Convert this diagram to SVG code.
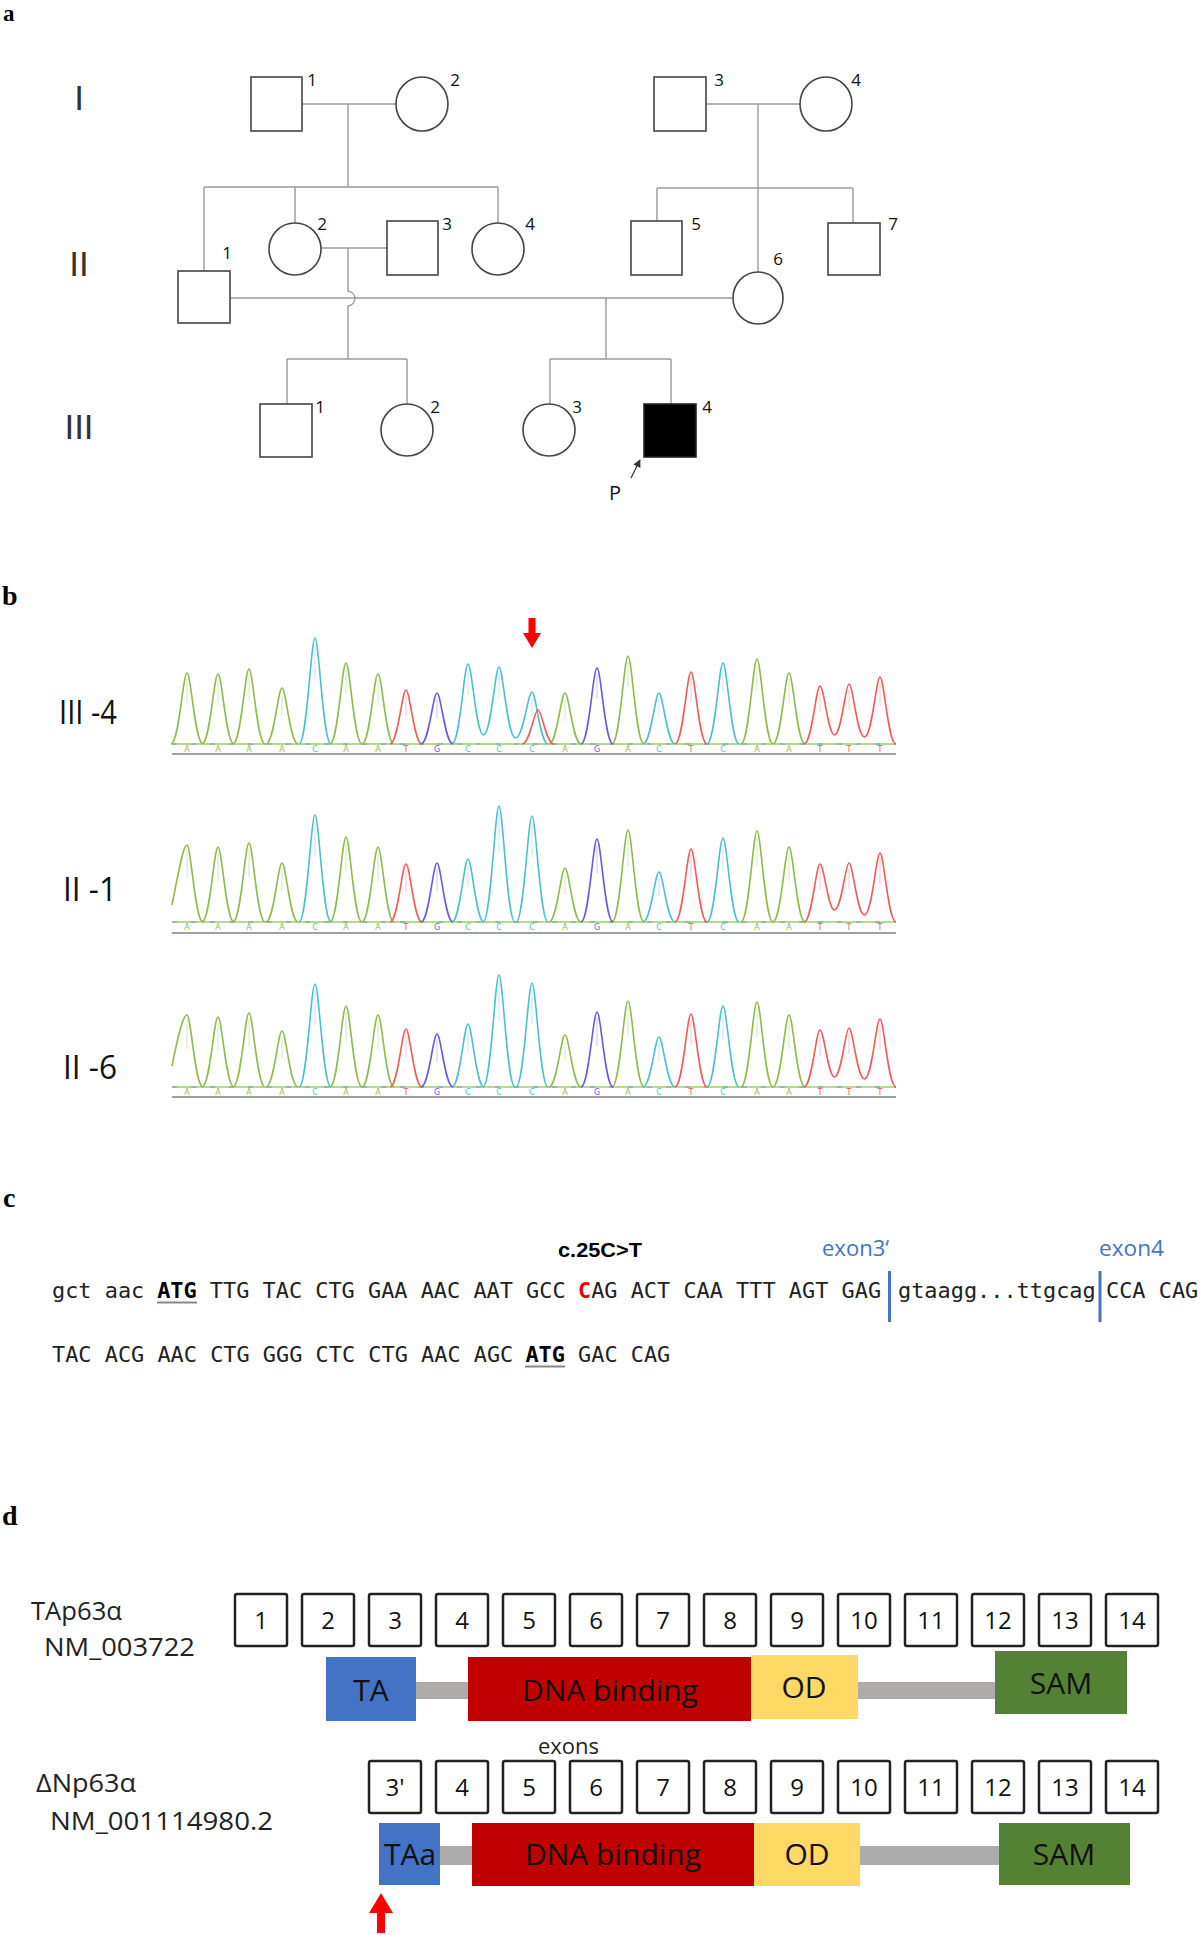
<svg xmlns="http://www.w3.org/2000/svg" width="1200" height="1935" viewBox="0 0 1200 1935">
<style>
.bg{fill:#fff}
.ped{fill:#fff;stroke:#444;stroke-width:1.6}
.aff{fill:#000;stroke:#222;stroke-width:1.6}
.ln{fill:none;stroke:#9a9a9a;stroke-width:1.4}
.num{font-family:"Open Sans","Liberation Sans",sans-serif;font-size:17px;fill:#111;text-anchor:middle}
.gen{font-family:"Liberation Sans",sans-serif;font-size:35px;fill:#333;text-anchor:middle}
.panel{font-family:"Liberation Serif",serif;font-weight:bold;font-size:28px;fill:#000}
.lab{font-family:"Open Sans","Liberation Sans",sans-serif;font-size:32px;fill:#111}
.pk{fill:none;stroke-width:1.6}
.cl{fill:none;stroke-width:1;opacity:0.35}
.g{stroke:#8cbb4c}.c{stroke:#4cbfcb}.r{stroke:#f05a5a}.p{stroke:#6a58e0}
.fA{fill:#8cbb4c}.fC{fill:#4cbfcb}.fT{fill:#f05a5a}.fG{fill:#6a58e0}
.bl{font-family:"DejaVu Sans",sans-serif;font-size:8px;text-anchor:middle}
.seq{font-family:"DejaVu Sans Mono",monospace;font-size:21.9px;fill:#222}
.bold{font-weight:bold;fill:#000}
.exl{font-family:"Open Sans","Liberation Sans",sans-serif;font-size:22px;fill:#4472C4}
.ex{fill:#fff;stroke:#222;stroke-width:2.5}
.exn{font-family:"Open Sans","Liberation Sans",sans-serif;font-size:24px;fill:#111;text-anchor:middle}
.dom{font-family:"Open Sans","Liberation Sans",sans-serif;font-size:30px;fill:#111;text-anchor:middle}
.iso{font-family:"Open Sans","Liberation Sans",sans-serif;font-size:26px;fill:#222}
.link{fill:#AEABAB}
.blue{stroke:#4472C4;stroke-width:3}
.ul{stroke:#888;stroke-width:2}
</style>
<defs>
<marker id="ah" viewBox="0 0 10 10" refX="9" refY="5" markerWidth="6" markerHeight="6" orient="auto"><path d="M0,0 L10,5 L0,10 z" fill="#333"/></marker>
</defs>
<rect class="bg" x="0" y="0" width="1200" height="1935"/>

<!-- Panel a -->
<text class="panel" x="3" y="21" style="font-size:23px">a</text>
<text class="gen" x="79" y="110">I</text>
<text class="gen" x="79" y="276">II</text>
<text class="gen" x="79" y="439">III</text>

<g id="connectors">
<path class="ln" d="M302,104 H396 M348,104 V187 M204,187 H498 M204,187 V271 M295,187 V223 M498,187 V223"/>
<path class="ln" d="M706,104 H800 M758,104 V272 M657,188 H853 M657,188 V221 M853,188 V223"/>
<path class="ln" d="M321,248 H387 M348,248 V291 C357,292 357,305 348,306 V359 M287,359 H407 M287,359 V404 M407,359 V404"/>
<path class="ln" d="M230,298 H732 M606,298 V359 M550,359 H671 M550,359 V404 M671,359 V404"/>
<path d="M631,478 L640,460" fill="none" stroke="#333" stroke-width="1.3" marker-end="url(#ah)"/>
</g>

<g id="I-1"><rect class="ped" x="251" y="77" width="51" height="54"/><text class="num" x="312" y="86">1</text></g>
<g id="I-2"><ellipse class="ped" cx="422" cy="104" rx="26" ry="27"/><text class="num" x="455" y="86">2</text></g>
<g id="I-3"><rect class="ped" x="654" y="77" width="52" height="54"/><text class="num" x="719" y="86">3</text></g>
<g id="I-4"><ellipse class="ped" cx="826" cy="104" rx="26" ry="27"/><text class="num" x="856" y="86">4</text></g>
<g id="II-1"><rect class="ped" x="178" y="271" width="52" height="52"/><text class="num" x="227" y="259">1</text></g>
<g id="II-2"><ellipse class="ped" cx="295" cy="249" rx="26" ry="26"/><text class="num" x="322" y="230">2</text></g>
<g id="II-3"><rect class="ped" x="387" y="221" width="51" height="54"/><text class="num" x="447" y="230">3</text></g>
<g id="II-4"><ellipse class="ped" cx="498" cy="249" rx="26" ry="26"/><text class="num" x="530" y="230">4</text></g>
<g id="II-5"><rect class="ped" x="631" y="221" width="51" height="54"/><text class="num" x="696" y="230">5</text></g>
<g id="II-6"><ellipse class="ped" cx="758" cy="298" rx="25" ry="26"/><text class="num" x="778" y="265">6</text></g>
<g id="II-7"><rect class="ped" x="828" y="223" width="52" height="52"/><text class="num" x="893" y="230">7</text></g>
<g id="III-1"><rect class="ped" x="260" y="404" width="52" height="53"/><text class="num" x="320" y="413">1</text></g>
<g id="III-2"><ellipse class="ped" cx="407" cy="430" rx="26" ry="26"/><text class="num" x="435" y="413">2</text></g>
<g id="III-3"><ellipse class="ped" cx="549" cy="430" rx="26" ry="26"/><text class="num" x="577" y="413">3</text></g>
<g id="III-4"><rect class="aff" x="644" y="404" width="52" height="53"/><text class="num" x="707" y="413">4</text></g>
<text class="num" x="615" y="500" style="font-size:20px">P</text>

<!-- Panel b -->
<text class="panel" x="2" y="605">b</text>
<text class="lab" x="59" y="724" textLength="58" lengthAdjust="spacingAndGlyphs">III -4</text>
<text class="lab" x="63" y="901" textLength="54" lengthAdjust="spacingAndGlyphs">II -1</text>
<text class="lab" x="63" y="1079" textLength="54" lengthAdjust="spacingAndGlyphs">II -6</text>

<g id="trace-III-4">
<line x1="172" y1="744" x2="896" y2="744" stroke="#9ccc6a" stroke-width="1.3"/>
<line x1="172" y1="744" x2="896" y2="744" stroke="#5a7be0" stroke-width="1.2" stroke-dasharray="5 14" opacity="0.7"/>
<line x1="172" y1="754" x2="896" y2="754" stroke="#a0a0a0" stroke-width="2"/>
<path class="pk g" d="M171,744c8,0 12,-71 16,-71c4,0 8,71 16,71M202,744c8,0 12,-70 16,-70c4,0 8,70 16,70M233,744c8,0 12,-75 16,-75c4,0 8,75 16,75M266,744c8,0 12,-56 16,-56c4,0 8,56 16,56M330,744c8,0 12,-81 16,-81c4,0 8,81 16,81M362,744c8,0 12,-70 16,-70c4,0 8,70 16,70M549,744c8,0 12,-51 16,-51c4,0 8,51 16,51M612,744c8,0 12,-88 16,-88c4,0 8,88 16,88M741,744c8,0 12,-85 16,-85c4,0 8,85 16,85M773,744c8,0 12,-71 16,-71c4,0 8,71 16,71"/>
<path class="pk c" d="M299,744c8,0 12,-106 16,-106c4,0 8,106 16,106M452,744c8,0 12,-80 16,-80c4,0 8,71 15.5,71c7.75,0 11.6,-68 15.5,-68c4,0 8.25,71 16.5,71c8,0 12.4,-46 16.5,-46c4,0 8,52 16,52M643,744c8,0 12,-51 16,-51c4,0 8,51 16,51M707,744c8,0 12,-81 16,-81c4,0 8,81 16,81"/>
<path class="pk r" d="M390,744c8,0 12,-54 16,-54c4,0 8,54 16,54M522,744c8,0 12,-34 16,-34c4,0 8,34 16,34M675,744c8,0 12,-72 16,-72c4,0 8,72 16,72M804,744c8,0 12,-58 16,-58c4,0 8,49 14.5,49c7,0 10.9,-51 14.5,-51c4,0 8,53 15.5,53c7.75,0 11.6,-60 15.5,-60c4,0 8,67 16,67"/>
<path class="pk p" d="M421,744c8,0 12,-51 16,-51c4,0 8,51 16,51M581,744c8,0 12,-76 16,-76c4,0 8,76 16,76"/>
<path class="cl g" d="M187,679v25M218,680v25M249,675v25M282,694v22M346,669v25M378,680v25M565,699v22M628,662v25M757,665v25M789,679v25"/>
<path class="cl c" d="M315,644v35M468,670v25M499,673v25M532,698v18M659,699v18M723,669v25"/>
<path class="cl r" d="M406,696v20M691,678v25M820,692v20M849,690v20M880,683v22"/>
<path class="cl p" d="M437,699v20M597,674v25"/>
<text class="bl" y="752"><tspan x="187" class="fA">A</tspan><tspan x="218" class="fA">A</tspan><tspan x="249" class="fA">A</tspan><tspan x="282" class="fA">A</tspan><tspan x="315" class="fC">C</tspan><tspan x="346" class="fA">A</tspan><tspan x="378" class="fA">A</tspan><tspan x="406" class="fT">T</tspan><tspan x="437" class="fG">G</tspan><tspan x="468" class="fC">C</tspan><tspan x="499" class="fC">C</tspan><tspan x="532" class="fC">C</tspan><tspan x="565" class="fA">A</tspan><tspan x="597" class="fG">G</tspan><tspan x="628" class="fA">A</tspan><tspan x="659" class="fC">C</tspan><tspan x="691" class="fT">T</tspan><tspan x="723" class="fC">C</tspan><tspan x="757" class="fA">A</tspan><tspan x="789" class="fA">A</tspan><tspan x="820" class="fT">T</tspan><tspan x="849" class="fT">T</tspan><tspan x="880" class="fT">T</tspan></text>
<polygon points="528.5,618 535.5,618 535.5,633 541,633 532,648 523,633 528.5,633" fill="#f00"/>
</g>

<g id="trace-II-1">
<line x1="172" y1="922" x2="896" y2="922" stroke="#9ccc6a" stroke-width="1.3"/>
<line x1="172" y1="922" x2="896" y2="922" stroke="#5a7be0" stroke-width="1.2" stroke-dasharray="5 14" opacity="0.7"/>
<line x1="172" y1="933" x2="896" y2="933" stroke="#a0a0a0" stroke-width="2"/>
<path class="pk g" d="M172,905c6,-30 11,-60 15,-60c4,0 8,77 16,77M202,922c8,0 12,-75 16,-75c4,0 8,75 16,75M233,922c8,0 12,-79 16,-79c4,0 8,79 16,79M266,922c8,0 12,-59 16,-59c4,0 8,59 16,59M330,922c8,0 12,-85 16,-85c4,0 8,85 16,85M362,922c8,0 12,-75 16,-75c4,0 8,75 16,75M549,922c8,0 12,-54 16,-54c4,0 8,54 16,54M612,922c8,0 12,-92 16,-92c4,0 8,92 16,92M741,922c8,0 12,-91 16,-91c4,0 8,91 16,91M773,922c8,0 12,-75 16,-75c4,0 8,75 16,75"/>
<path class="pk c" d="M299,922c8,0 12,-107 16,-107c4,0 8,107 16,107M452,922c8,0 12,-63 16,-63c4,0 8,63 16,63M483,922c8,0 12,-116 16,-116c4,0 8,116 16,116M516,922c8,0 12,-106 16,-106c4,0 8,106 16,106M643,922c8,0 12,-50 16,-50c4,0 8,50 16,50M707,922c8,0 12,-84 16,-84c4,0 8,84 16,84"/>
<path class="pk r" d="M390,922c8,0 12,-58 16,-58c4,0 8,58 16,58M675,922c8,0 12,-73 16,-73c4,0 8,73 16,73M804,922c8,0 12,-58 16,-58c4,0 8,46 14.5,46c7,0 10.9,-47 14.5,-47c4,0 8,52 15.5,52c7.75,0 11.6,-62 15.5,-62c4,0 8,69 16,69"/>
<path class="pk p" d="M421,922c8,0 12,-59 16,-59c4,0 8,59 16,59M581,922c8,0 12,-83 16,-83c4,0 8,83 16,83"/>
<path class="cl g" d="M187,851v28M218,853v28M249,849v28M282,869v22M346,843v28M378,853v28M565,874v20M628,836v30M757,837v30M789,853v28"/>
<path class="cl c" d="M315,821v35M468,865v22M499,812v40M532,822v35M659,878v18M723,844v28"/>
<path class="cl r" d="M406,870v22M691,855v25M820,870v20M849,869v20M880,859v25"/>
<path class="cl p" d="M437,869v22M597,845v28"/>
<text class="bl" y="930"><tspan x="187" class="fA">A</tspan><tspan x="218" class="fA">A</tspan><tspan x="249" class="fA">A</tspan><tspan x="282" class="fA">A</tspan><tspan x="315" class="fC">C</tspan><tspan x="346" class="fA">A</tspan><tspan x="378" class="fA">A</tspan><tspan x="406" class="fT">T</tspan><tspan x="437" class="fG">G</tspan><tspan x="468" class="fC">C</tspan><tspan x="499" class="fC">C</tspan><tspan x="532" class="fC">C</tspan><tspan x="565" class="fA">A</tspan><tspan x="597" class="fG">G</tspan><tspan x="628" class="fA">A</tspan><tspan x="659" class="fC">C</tspan><tspan x="691" class="fT">T</tspan><tspan x="723" class="fC">C</tspan><tspan x="757" class="fA">A</tspan><tspan x="789" class="fA">A</tspan><tspan x="820" class="fT">T</tspan><tspan x="849" class="fT">T</tspan><tspan x="880" class="fT">T</tspan></text>
</g>

<g id="trace-II-6">
<line x1="172" y1="1087" x2="896" y2="1087" stroke="#9ccc6a" stroke-width="1.3"/>
<line x1="172" y1="1087" x2="896" y2="1087" stroke="#5a7be0" stroke-width="1.2" stroke-dasharray="5 14" opacity="0.7"/>
<line x1="172" y1="1097" x2="896" y2="1097" stroke="#a0a0a0" stroke-width="2"/>
<path class="pk g" d="M172,1066c6,-30 11,-51 15,-51c4,0 8,72 16,72M202,1087c8,0 12,-70 16,-70c4,0 8,70 16,70M233,1087c8,0 12,-74 16,-74c4,0 8,74 16,74M266,1087c8,0 12,-56 16,-56c4,0 8,56 16,56M330,1087c8,0 12,-81 16,-81c4,0 8,81 16,81M362,1087c8,0 12,-72 16,-72c4,0 8,72 16,72M549,1087c8,0 12,-52 16,-52c4,0 8,52 16,52M612,1087c8,0 12,-86 16,-86c4,0 8,86 16,86M741,1087c8,0 12,-85 16,-85c4,0 8,85 16,85M773,1087c8,0 12,-72 16,-72c4,0 8,72 16,72"/>
<path class="pk c" d="M299,1087c8,0 12,-103 16,-103c4,0 8,103 16,103M452,1087c8,0 12,-63 16,-63c4,0 8,63 16,63M483,1087c8,0 12,-112 16,-112c4,0 8,112 16,112M516,1087c8,0 12,-104 16,-104c4,0 8,104 16,104M643,1087c8,0 12,-50 16,-50c4,0 8,50 16,50M707,1087c8,0 12,-81 16,-81c4,0 8,81 16,81"/>
<path class="pk r" d="M390,1087c8,0 12,-58 16,-58c4,0 8,58 16,58M675,1087c8,0 12,-73 16,-73c4,0 8,73 16,73M804,1087c8,0 12,-57 16,-57c4,0 8,47 14.5,47c7,0 10.9,-49 14.5,-49c4,0 8,51 15.5,51c7.75,0 11.6,-60 15.5,-60c4,0 8,68 16,68"/>
<path class="pk p" d="M421,1087c8,0 12,-53 16,-53c4,0 8,53 16,53M581,1087c8,0 12,-75 16,-75c4,0 8,75 16,75"/>
<path class="cl g" d="M187,1021v28M218,1023v28M249,1019v28M282,1037v22M346,1012v28M378,1021v28M565,1041v20M628,1007v30M757,1008v30M789,1021v28"/>
<path class="cl c" d="M315,990v35M468,1030v22M499,981v40M532,989v35M659,1043v18M723,1012v28"/>
<path class="cl r" d="M406,1035v22M691,1020v25M820,1036v20M849,1034v20M880,1025v25"/>
<path class="cl p" d="M437,1040v22M597,1018v28"/>
<text class="bl" y="1095"><tspan x="187" class="fA">A</tspan><tspan x="218" class="fA">A</tspan><tspan x="249" class="fA">A</tspan><tspan x="282" class="fA">A</tspan><tspan x="315" class="fC">C</tspan><tspan x="346" class="fA">A</tspan><tspan x="378" class="fA">A</tspan><tspan x="406" class="fT">T</tspan><tspan x="437" class="fG">G</tspan><tspan x="468" class="fC">C</tspan><tspan x="499" class="fC">C</tspan><tspan x="532" class="fC">C</tspan><tspan x="565" class="fA">A</tspan><tspan x="597" class="fG">G</tspan><tspan x="628" class="fA">A</tspan><tspan x="659" class="fC">C</tspan><tspan x="691" class="fT">T</tspan><tspan x="723" class="fC">C</tspan><tspan x="757" class="fA">A</tspan><tspan x="789" class="fA">A</tspan><tspan x="820" class="fT">T</tspan><tspan x="849" class="fT">T</tspan><tspan x="880" class="fT">T</tspan></text>
</g>

<!-- Panel c -->
<text class="panel" x="3" y="1207">c</text>
<text x="558" y="1257" font-family="Liberation Sans, sans-serif" font-weight="bold" font-size="20" fill="#000" textLength="84" lengthAdjust="spacingAndGlyphs">c.25C&gt;T</text>
<text class="exl" x="822" y="1256" textLength="67" lengthAdjust="spacingAndGlyphs">exon3‘</text>
<text class="exl" x="1099" y="1256" textLength="65" lengthAdjust="spacingAndGlyphs">exon4</text>
<g id="seq-line1">
<text class="seq" y="1298"><tspan x="52">gct aac </tspan><tspan class="bold" x="157.2">ATG</tspan><tspan x="196.65"> TTG TAC CTG GAA AAC AAT GCC </tspan><tspan x="578" fill="#e00000" font-weight="bold">C</tspan><tspan x="591.15">AG ACT CAA TTT AGT GAG</tspan><tspan x="898">gtaagg...ttgcag</tspan><tspan x="1106">CCA CAG</tspan></text>
<line class="ul" x1="157" y1="1302.5" x2="197" y2="1302.5"/>
<line class="blue" x1="889.5" y1="1271" x2="889.5" y2="1322"/>
<line class="blue" x1="1100" y1="1271" x2="1100" y2="1322"/>
</g>
<g id="seq-line2">
<text class="seq" y="1362"><tspan x="52">TAC ACG AAC CTG GGG CTC CTG AAC AGC </tspan><tspan class="bold" x="525.4">ATG</tspan><tspan x="564.85"> GAC CAG</tspan></text>
<line class="ul" x1="525" y1="1366.5" x2="565" y2="1366.5"/>
</g>

<!-- Panel d -->
<text class="panel" x="2" y="1525">d</text>
<text class="iso" x="31" y="1620" textLength="91" lengthAdjust="spacingAndGlyphs">TAp63α</text>
<text class="iso" x="44" y="1656" textLength="151" lengthAdjust="spacingAndGlyphs">NM_003722</text>
<text class="iso" x="36" y="1792" textLength="100" lengthAdjust="spacingAndGlyphs">ΔNp63α</text>
<text class="iso" x="50" y="1830" textLength="223" lengthAdjust="spacingAndGlyphs">NM_001114980.2</text>
<text class="iso" x="538" y="1754" style="font-size:22px">exons</text>

<g id="exons-TAp63">
<rect class="ex" x="235" y="1594" width="52" height="52" rx="2"/><text class="exn" x="261" y="1629">1</text>
<rect class="ex" x="302" y="1594" width="52" height="52" rx="2"/><text class="exn" x="328" y="1629">2</text>
<rect class="ex" x="369" y="1594" width="52" height="52" rx="2"/><text class="exn" x="395" y="1629">3</text>
<rect class="ex" x="436" y="1594" width="52" height="52" rx="2"/><text class="exn" x="462" y="1629">4</text>
<rect class="ex" x="503" y="1594" width="52" height="52" rx="2"/><text class="exn" x="529" y="1629">5</text>
<rect class="ex" x="570" y="1594" width="52" height="52" rx="2"/><text class="exn" x="596" y="1629">6</text>
<rect class="ex" x="637" y="1594" width="52" height="52" rx="2"/><text class="exn" x="663" y="1629">7</text>
<rect class="ex" x="704" y="1594" width="52" height="52" rx="2"/><text class="exn" x="730" y="1629">8</text>
<rect class="ex" x="771" y="1594" width="52" height="52" rx="2"/><text class="exn" x="797" y="1629">9</text>
<rect class="ex" x="838" y="1594" width="52" height="52" rx="2"/><text class="exn" x="864" y="1629">10</text>
<rect class="ex" x="905" y="1594" width="52" height="52" rx="2"/><text class="exn" x="931" y="1629">11</text>
<rect class="ex" x="972" y="1594" width="52" height="52" rx="2"/><text class="exn" x="998" y="1629">12</text>
<rect class="ex" x="1039" y="1594" width="52" height="52" rx="2"/><text class="exn" x="1065" y="1629">13</text>
<rect class="ex" x="1106" y="1594" width="52" height="52" rx="2"/><text class="exn" x="1132" y="1629">14</text>
</g>
<g id="domains-TAp63">
<rect class="link" x="416" y="1682" width="52" height="17"/>
<rect class="link" x="858" y="1682" width="137" height="17"/>
<rect x="326" y="1657" width="90" height="64" fill="#4472C4"/><text class="dom" x="371" y="1701">TA</text>
<rect x="468" y="1657" width="283" height="64" fill="#C00000"/><text class="dom" x="610" y="1701">DNA binding</text>
<rect x="751" y="1655" width="107" height="64" fill="#FFD966"/><text class="dom" x="804" y="1698">OD</text>
<rect x="995" y="1651" width="132" height="63" fill="#548235"/><text class="dom" x="1061" y="1694">SAM</text>
</g>

<g id="exons-dNp63">
<rect class="ex" x="369" y="1761" width="52" height="52" rx="2"/><text class="exn" x="395" y="1796">3'</text>
<rect class="ex" x="436" y="1761" width="52" height="52" rx="2"/><text class="exn" x="462" y="1796">4</text>
<rect class="ex" x="503" y="1761" width="52" height="52" rx="2"/><text class="exn" x="529" y="1796">5</text>
<rect class="ex" x="570" y="1761" width="52" height="52" rx="2"/><text class="exn" x="596" y="1796">6</text>
<rect class="ex" x="637" y="1761" width="52" height="52" rx="2"/><text class="exn" x="663" y="1796">7</text>
<rect class="ex" x="704" y="1761" width="52" height="52" rx="2"/><text class="exn" x="730" y="1796">8</text>
<rect class="ex" x="771" y="1761" width="52" height="52" rx="2"/><text class="exn" x="797" y="1796">9</text>
<rect class="ex" x="838" y="1761" width="52" height="52" rx="2"/><text class="exn" x="864" y="1796">10</text>
<rect class="ex" x="905" y="1761" width="52" height="52" rx="2"/><text class="exn" x="931" y="1796">11</text>
<rect class="ex" x="972" y="1761" width="52" height="52" rx="2"/><text class="exn" x="998" y="1796">12</text>
<rect class="ex" x="1039" y="1761" width="52" height="52" rx="2"/><text class="exn" x="1065" y="1796">13</text>
<rect class="ex" x="1106" y="1761" width="52" height="52" rx="2"/><text class="exn" x="1132" y="1796">14</text>
</g>
<g id="domains-dNp63">
<rect class="link" x="440" y="1846" width="32" height="19"/>
<rect class="link" x="860" y="1846" width="139" height="19"/>
<rect x="379" y="1823" width="61" height="62" fill="#4472C4"/><text class="dom" x="410" y="1865">TAa</text>
<rect x="472" y="1823" width="282" height="63" fill="#C00000"/><text class="dom" x="613" y="1865">DNA binding</text>
<rect x="754" y="1823" width="106" height="63" fill="#FFD966"/><text class="dom" x="807" y="1865">OD</text>
<rect x="999" y="1823" width="131" height="62" fill="#548235"/><text class="dom" x="1064" y="1865">SAM</text>
</g>
<polygon points="381,1893 393,1913 385,1913 385,1933 377,1933 377,1913 369,1913" fill="#f00"/>
</svg>
